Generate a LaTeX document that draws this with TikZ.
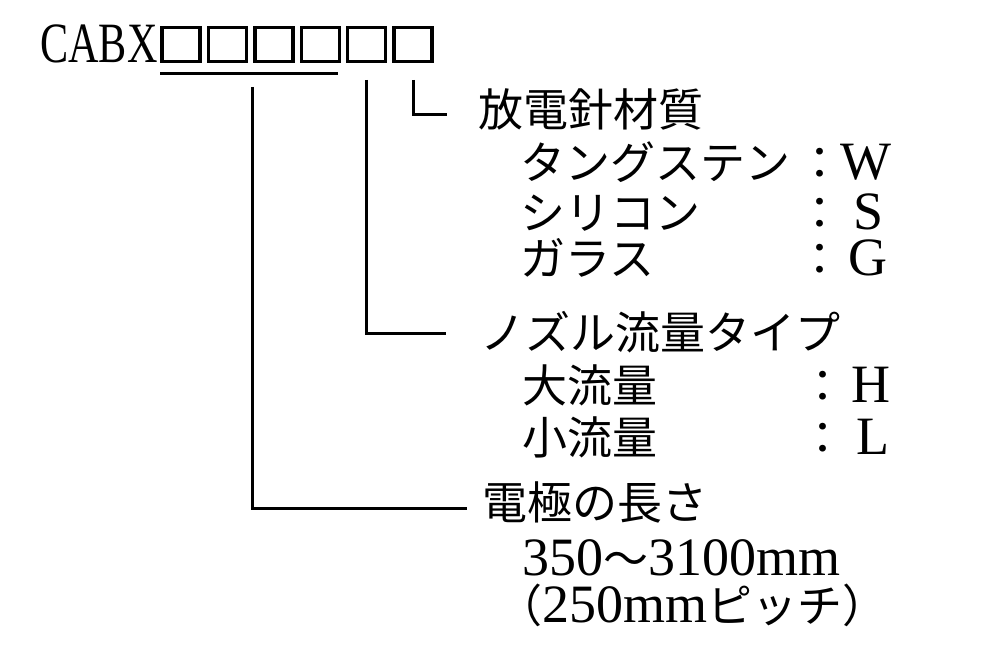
\documentclass[tikz,border=0pt]{standalone}
\usepackage{fontspec}
\setmainfont{Liberation Serif}
\newfontfamily\jp{Noto Sans CJK JP}
\newcommand\jpt[1]{{\jp\fontsize{22.5}{24}\selectfont #1}}
\begin{document}
\begin{tikzpicture}[x=0.5pt,y=-0.5pt,
  cell/.style={draw,line width=1.7pt,minimum width=19pt,minimum height=16.8pt,inner sep=0pt},
  link/.style={line width=1.5pt},
  jtext/.style={anchor=base west,inner sep=0pt,font=\jp\fontsize{22.5}{24}\selectfont},
  ltext/.style={anchor=base west,inner sep=0pt,font=\fontsize{27}{29}\selectfont},
  code/.style={anchor=base,inner sep=0pt,font=\fontsize{27}{29}\selectfont},
  colon/.style={anchor=base,inner sep=0pt,font=\jp\fontsize{22.5}{24}\selectfont}]
\fill[white] (0,0) rectangle (1000,667);
\useasboundingbox (0,0) rectangle (1000,667);
% model code
\node[anchor=base west,inner sep=0pt] (model) at (40,63) {\scalebox{0.74}[1]{\fontsize{28.5}{30}\selectfont CABX}};
\foreach \i in {1,...,6} \node[cell] (b\i) at ({181+46.4*(\i-1)},44.5) {};
% bracket under first four boxes
\coordinate (ul) at (160,74);
\coordinate (ur) at (338,74);
\draw[link] (ul) -- (ur);
% connectors
\coordinate (lentop) at (252,87);
\coordinate (lenend) at (467,508);
\coordinate (nozend) at (446,334);
\coordinate (matend) at (447,115);
\draw[link] (lentop) |- (lenend);
\draw[link] ([yshift=-8.5pt]b5.south) |- (nozend);
\draw[link] ([yshift=-8.5pt]b6.south) |- (matend);
% material
\node[jtext] (hmat) at (478,127) {放電針材質};
\node[jtext] (m1) at (520,180) {タングステン};
\node[jtext] (m2) at (520,230) {シリコン};
\node[jtext] (m3) at (520,276) {ガラス};
\node[colon] (mc1) at (820,180) {：};
\node[colon] (mc2) at (820,230) {：};
\node[colon] (mc3) at (820,276) {：};
\node[code] (mk1) at (866,180) {W};
\node[code] (mk2) at (869,230) {S};
\node[code] (mk3) at (868,276) {G};
% nozzle
\node[jtext] (hnoz) at (480,350) {ノズル流量タイプ};
\node[jtext] (n1) at (522,403) {大流量};
\node[jtext] (n2) at (522,455) {小流量};
\node[colon] (nc1) at (823,403) {：};
\node[colon] (nc2) at (823,455) {：};
\node[code] (nk1) at (871,403) {H};
\node[code] (nk2) at (873,455) {L};
% length
\node[jtext] (hlen) at (482,519) {電極の長さ};
\node[ltext] (r1) at (522,575) {350\jpt{～}3100mm};
\node[ltext] (r2) at (497,622) {\jpt{（}250mm\jpt{ピッチ）}};
\end{tikzpicture}
\end{document}
